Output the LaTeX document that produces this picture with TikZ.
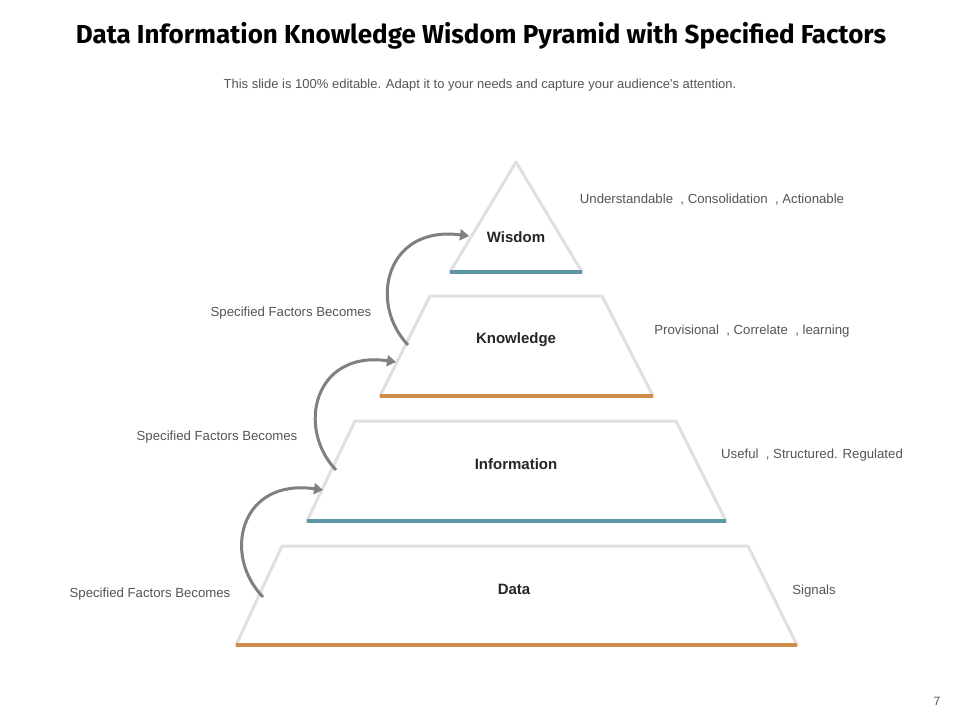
\documentclass[tikz,border=0pt]{standalone}
\usepackage{fontspec}
\setmainfont{Liberation Sans}
\newfontfamily\titlefont{Fira Sans}
\usetikzlibrary{arrows.meta}
\definecolor{teal}{HTML}{5E97A6}
\definecolor{orng}{HTML}{D08C4B}
\definecolor{txt}{HTML}{555555}
\begin{document}
\begin{tikzpicture}[x=1pt,y=-1pt,
  tier/.style={draw=black!12,line width=3pt,fill=white,line join=round},
  base/.style={line width=4pt},
  lbl/.style={font=\fontsize{15}{17}\selectfont\bfseries,text=black!85},
  side/.style={font=\fontsize{13.2}{15}\selectfont,text=txt},
  arc/.style={draw=black!50,line width=3pt,-{Triangle[length=9pt,width=11pt]}}]
\useasboundingbox[fill=white] (0,0) rectangle (960,720);
\node (title) at (481,36) {\titlefont\fontsize{26}{30}\selectfont\bfseries Data Information Knowledge Wisdom Pyramid with Specified Factors};
\node[font=\fontsize{13}{15}\selectfont,text=txt] (sub) at (480,85) {This slide is 100\% editable. Adapt it to your needs and capture your audience's attention.};
% tiers
\draw[tier] (516,162) -- (582,272) -- (450,272) -- cycle;
\draw[base,teal] (450,272) -- (582,272);
\draw[tier] (430,296) -- (602,296) -- (653,396) -- (380,396) -- cycle;
\draw[base,orng] (380,396) -- (653,396);
\draw[tier] (355,421) -- (676,421) -- (726,521) -- (307,521) -- cycle;
\draw[base,teal] (307,521) -- (726,521);
\draw[tier] (282,546) -- (748,546) -- (797,645) -- (236,645) -- cycle;
\draw[base,orng] (236,645) -- (797,645);
\node[lbl] (w) at (516,237) {Wisdom};
\node[lbl] (k) at (516,340) {Knowledge};
\node[lbl] (i) at (516,464) {Information};
\node[lbl] (d) at (514,589) {Data};
% arrows
\coordinate (a1s) at (263,597); \coordinate (a1e) at (323,490);
\coordinate (a2s) at (336,470); \coordinate (a2e) at (396,362);
\coordinate (a3s) at (408,345); \coordinate (a3e) at (469,236);
\draw[arc] (a1s) .. controls (222,555) and (240,478) .. (a1e);
\draw[arc] (a2s) .. controls (296,428) and (314,350) .. (a2e);
\draw[arc] (a3s) .. controls (368,303) and (386,225) .. (a3e);
% side texts
\node[side] (s1) at (150,594) {Specified Factors Becomes};
\node[side] (s2) at (217,437) {Specified Factors Becomes};
\node[side] (s3) at (291,313) {Specified Factors Becomes};
\node[side] (r1) at (712,200) {Understandable\ \ , Consolidation\ \ , Actionable};
\node[side] (r2) at (752,331) {Provisional\ \ , Correlate\ \ , learning};
\node[side] (r3) at (812,455) {Useful\ \ , Structured. Regulated};
\node[side] (r4) at (814,591) {Signals};
\node[font=\fontsize{12}{14}\selectfont,text=txt] (pg) at (937,701) {7};
\end{tikzpicture}
\end{document}
